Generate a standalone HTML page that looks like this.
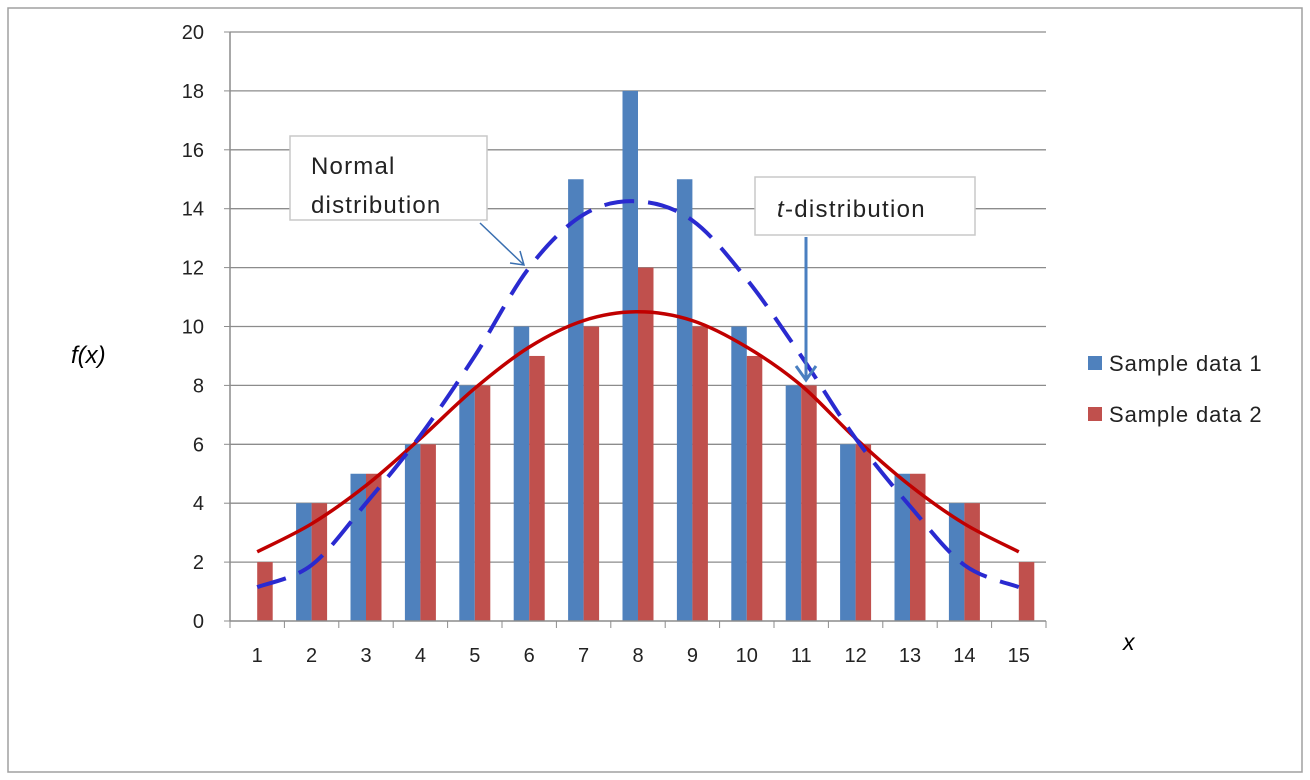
<!DOCTYPE html>
<html><head><meta charset="utf-8"><style>
body{margin:0;background:#fff;}
svg{display:block;font-family:"Liberation Sans",sans-serif;}
</style></head><body>
<svg id="c" width="1310" height="780" xmlns="http://www.w3.org/2000/svg">
<rect x="8" y="8" width="1294" height="764" fill="#fff" stroke="#a0a0a0" stroke-width="1.5"/>
<g id="grid"></g><g id="bars"></g><g id="curves"></g><g id="axes"></g>
<text x="71" y="363" font-size="24" font-style="italic">f(x)</text>
<text x="1123" y="650" font-size="23" font-style="italic">x</text>
<g>
<g><rect x="1088" y="356" width="14" height="14" fill="#4f81bd"/><text x="1109" y="371" font-size="22" letter-spacing="0.9" fill="#222">Sample data 1</text></g>
<g><rect x="1088" y="407" width="14" height="14" fill="#c0504d"/><text x="1109" y="422" font-size="22" letter-spacing="0.9" fill="#222">Sample data 2</text></g>
</g>
<g>
<rect x="290" y="136" width="197" height="84" fill="#fff" stroke="#c8c8c8" stroke-width="1.5"/>
<text x="311" y="174" font-size="24" letter-spacing="1.2" fill="#222">Normal</text>
<text x="311" y="213" font-size="24" letter-spacing="1.2" fill="#222">distribution</text>
<line x1="480" y1="223" x2="524" y2="265" stroke="#3a6fb0" stroke-width="1.5"/>
<polyline points="510,263 524,265 520,251" fill="none" stroke="#3a6fb0" stroke-width="1.5"/>
</g>
<g>
<rect x="755" y="177" width="220" height="58" fill="#fff" stroke="#c8c8c8" stroke-width="1.5"/>
<text x="777" y="217" font-size="24" letter-spacing="1.3" fill="#222"><tspan font-style="italic">t</tspan>-distribution</text>
<line x1="806" y1="237" x2="806" y2="378" stroke="#4a7fc0" stroke-width="3"/>
<polyline points="796,366 806,380 816,366" fill="none" stroke="#4a7fc0" stroke-width="3"/>
</g>
</svg>
<script>
const categories=[1,2,3,4,5,6,7,8,9,10,11,12,13,14,15];
const sample1=[0,4,5,6,8,10,15,18,15,10,8,6,5,4,0];
const sample2=[2,4,5,6,8,9,10,12,10,9,8,6,5,4,2];
const normalCurve=[1.15,1.9,4,6.3,9,12,13.8,14.25,13.6,11.6,9,6.2,3.9,1.9,1.15];
const tCurve=[2.35,3.3,4.6,6.2,7.9,9.3,10.2,10.5,10.2,9.3,8,6.2,4.6,3.3,2.35];
const yTicks=[0,2,4,6,8,10,12,14,16,18,20];
const NS='http://www.w3.org/2000/svg';
const L=230,R=1046,T=32,B=621,bw=(R-L)/categories.length;
const X=i=>L+bw*(i+0.5), Y=v=>B-(B-T)*v/20;
function mk(t,a,p){const e=document.createElementNS(NS,t);for(const k in a)e.setAttribute(k,a[k]);p.appendChild(e);return e;}
const g=document.getElementById('grid'),ba=document.getElementById('bars'),cu=document.getElementById('curves'),ax=document.getElementById('axes');
yTicks.forEach(v=>{
 if(v>0){const l=mk('line',{x1:L,x2:R,y1:Y(v),y2:Y(v),stroke:'#8c8c8c','stroke-width':1.3},g);
 
 }
 const t=mk('text',{x:L-26,y:Y(v)+7,'font-size':20,'text-anchor':'end',fill:'#222'},ax);t.textContent=v;
 
 
 mk('line',{x1:L-6,x2:L,y1:Y(v),y2:Y(v),stroke:'#8c8c8c'},ax);
});
categories.forEach((c,i)=>{
 const b1=mk('rect',{x:X(i)-15.5,y:Y(sample1[i]),width:15.5,height:B-Y(sample1[i]),fill:'#4f81bd'},ba);
 
 
 const b2=mk('rect',{x:X(i),y:Y(sample2[i]),width:15.5,height:B-Y(sample2[i]),fill:'#c0504d'},ba);
 
 
 const t=mk('text',{x:X(i),y:B+41,'font-size':20,'text-anchor':'middle',fill:'#222'},ax);t.textContent=c;
 
 
 mk('line',{x1:L+bw*i,x2:L+bw*i,y1:B,y2:B+7,stroke:'#8c8c8c'},ax);
});
mk('line',{x1:R,x2:R,y1:B,y2:B+7,stroke:'#8c8c8c'},ax);
const xa=mk('line',{x1:L,x2:R,y1:B,y2:B,stroke:'#8c8c8c','stroke-width':1.5},ax);


const ya=mk('line',{x1:L,x2:L,y1:T,y2:B,stroke:'#8c8c8c','stroke-width':1.5},ax);


function path(vals){const p=vals.map((v,i)=>[X(i),Y(v)]);let d='M'+p[0];
 for(let i=0;i<p.length-1;i++){const p0=p[i-1]||p[i],p1=p[i],p2=p[i+1],p3=p[i+2]||p2;
 d+=' C'+[p1[0]+(p2[0]-p0[0])/6,p1[1]+(p2[1]-p0[1])/6]+' '+[p2[0]-(p3[0]-p1[0])/6,p2[1]-(p3[1]-p1[1])/6]+' '+p2;}return d;}
const tc=mk('path',{d:path(tCurve),fill:'none',stroke:'#c00000','stroke-width':3.5},cu);


const nc=mk('path',{d:path(normalCurve),fill:'none',stroke:'#2a2ad0','stroke-width':4,'stroke-dasharray':'30 14'},cu);


</script>
</body></html>
